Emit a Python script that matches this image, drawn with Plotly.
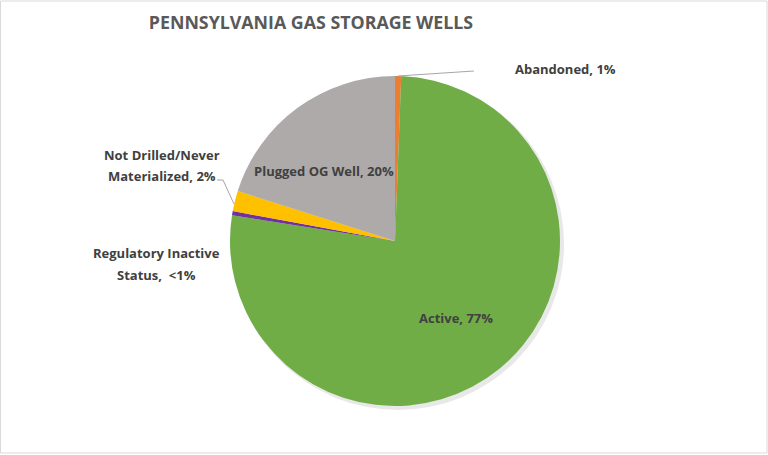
import plotly.graph_objects as go

W, H = 768, 455

categories = ["Abandoned", "Active", "Regulatory Inactive Status",
              "Not Drilled/Never Materialized", "Plugged OG Well"]
values = [0.6, 76.9, 0.4, 2.0, 20.1]
pct_labels = ["1%", "77%", "<1%", "2%", "20%"]
colors = ["#ED7D31", "#70AD47", "#7030A0", "#FFC000", "#AEAAAA"]

def px(x):
    return x / W

def py(y):
    return 1 - y / H

cx, cy, r = 395, 241, 165

fig = go.Figure()
# soft shadow
fig.add_trace(go.Pie(
    values=[1], marker=dict(colors=["rgba(0,0,0,0.09)"], line=dict(width=0)),
    textinfo="none", hoverinfo="skip", showlegend=False, sort=False,
    domain=dict(x=[px(cx - r + 2), px(cx + r + 4)], y=[py(cy + r + 4), py(cy - r + 2)]),
))
fig.add_trace(go.Pie(
    labels=categories, values=values, sort=False, direction="clockwise", rotation=0,
    marker=dict(colors=colors, line=dict(width=0)),
    textinfo="none", showlegend=False,
    domain=dict(x=[px(cx - r), px(cx + r)], y=[py(cy + r), py(cy - r)]),
))

lab_font = dict(family="Open Sans", size=13, color="#404040")
# label lines: (x center, y of first line, lines)
label_pos = {
    "Abandoned": (565, 69, ["Abandoned, " + pct_labels[0]]),
    "Active": (456, 318, ["Active, " + pct_labels[1]]),
    "Regulatory Inactive Status": (156, 253, ["Regulatory Inactive", "Status,  " + pct_labels[2]]),
    "Not Drilled/Never Materialized": (162, 155, ["Not Drilled/Never", "Materialized, " + pct_labels[3]]),
    "Plugged OG Well": (324, 171, ["Plugged OG Well, " + pct_labels[4]]),
}
line_gap = 21.5
for cat in categories:
    x, y, lines = label_pos[cat]
    for i, t in enumerate(lines):
        fig.add_annotation(x=px(x), y=py(y + i * line_gap), xref="paper", yref="paper",
                           text="<b>" + t + "</b>", showarrow=False, font=lab_font,
                           align="center", xanchor="center", yanchor="middle")

line_style = dict(color="#A6A6A6", width=1)
fig.add_shape(type="line", xref="paper", yref="paper",
              x0=px(398), y0=py(76), x1=px(474), y1=py(71), line=line_style)
fig.add_shape(type="path", xref="paper", yref="paper",
              path=f"M {px(217)},{py(180)} L {px(223)},{py(180)} L {px(234)},{py(204)}",
              line=line_style)

# chart border
fig.add_shape(type="rect", xref="paper", yref="paper", x0=px(0.5), y0=py(453), x1=px(767), y1=py(1),
              line=dict(color="#D9D9D9", width=1))

fig.update_layout(
    width=W, height=H, margin=dict(l=0, r=0, t=0, b=0),
    paper_bgcolor="white", plot_bgcolor="white",
    title=dict(text="<b>PENNSYLVANIA GAS STORAGE WELLS</b>", x=px(311), xanchor="center",
               y=py(23), yanchor="middle",
               font=dict(family="Open Sans", size=17.8, color="#595959")),
)

fig.write_html("out.html", config={"displayModeBar": False},
               post_script="document.body.style.margin='0';document.body.style.overflow='hidden';")
